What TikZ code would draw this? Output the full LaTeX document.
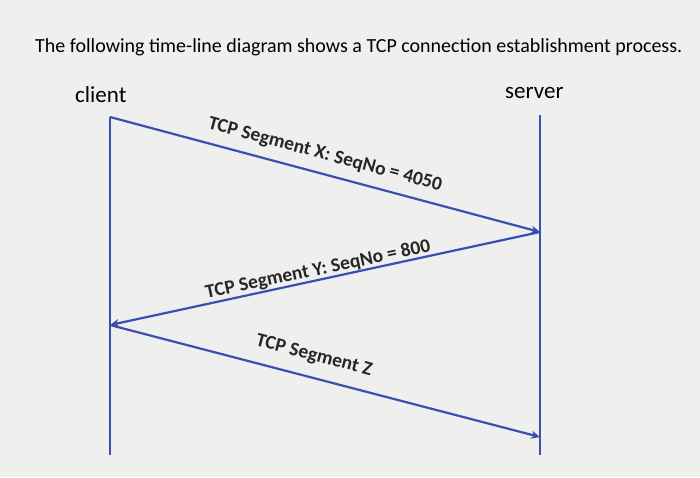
\documentclass[tikz,border=0pt]{standalone}
\usepackage{fontspec}
\setmainfont{Carlito}
\usetikzlibrary{arrows.meta}
\definecolor{bg}{HTML}{EFF0EE}
\definecolor{ln}{HTML}{3A50B0}
\tikzset{life/.style={ln,line width=2pt},msg/.style={ln,line width=2.2pt,-{Stealth[length=9pt,width=8pt]}},lbl/.style={font=\fontsize{19.5}{22}\selectfont\bfseries,text=black!85,inner sep=1pt}}
\begin{document}
\begin{tikzpicture}[x=1pt,y=-1pt]
\fill[bg] (0,0) rectangle (700,477);
\useasboundingbox (0,0) rectangle (700,477);
\node[font=\fontsize{20}{24}\selectfont,anchor=west,inner sep=0pt] (title) at (35,47) {The following time-line diagram shows a TCP connection establishment process.};
\node[font=\fontsize{23}{26}\selectfont,anchor=west,inner sep=0pt] (cl) at (75,95) {client};
\node[font=\fontsize{23}{26}\selectfont,anchor=west,inner sep=0pt] (sv) at (505,93) {server};
\coordinate (c0) at (110,117); \coordinate (c1) at (110,325); \coordinate (c2) at (110,455);
\coordinate (s0) at (540,115); \coordinate (s1) at (540,232); \coordinate (s2) at (540,437); \coordinate (s3) at (540,455);
\draw[life] (c0) -- (c2);
\draw[life] (s0) -- (s3);
\draw[msg] (c0) -- (s1);
\draw[msg] (s1) -- (c1);
\draw[msg] (c1) -- (s2);
\node[lbl,rotate=-15] (lx) at (325,155) {TCP Segment X: SeqNo = 4050};
\node[lbl,rotate=12] (ly) at (318,270) {TCP Segment Y: SeqNo = 800};
\node[lbl,rotate=-14.6] (lz) at (314,356) {TCP Segment Z};
\end{tikzpicture}
\end{document}
